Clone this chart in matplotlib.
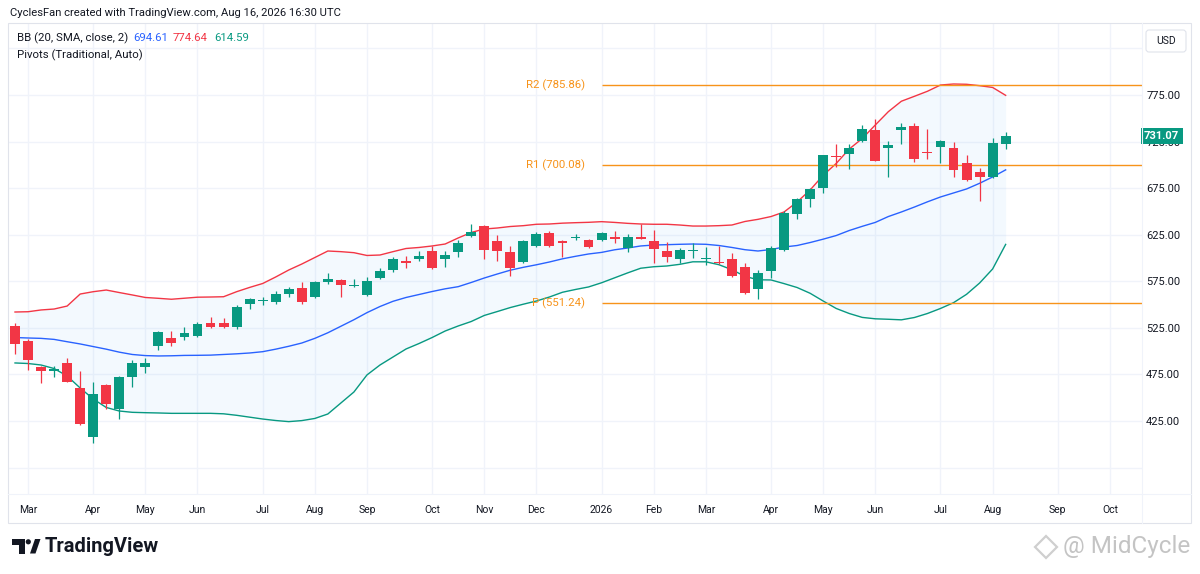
import numpy as np
import pandas as pd
import matplotlib
matplotlib.use('Agg')
import matplotlib.pyplot as plt
import matplotlib.transforms as mtransforms
from matplotlib.patches import FancyBboxPatch, Rectangle, Polygon, Circle

plt.rcParams['font.family'] = ['Roboto', 'DejaVu Sans']

# weekly candles, first bar is the week of 2025-02-24
first_week = '2025-02-24'

opens = [527.3, 511.2, 482.6, 478.3, 486.9, 460.7, 407.5, 463.6, 437.5, 472.5,
         483.3, 505.5, 514.4, 515.5, 516.6, 529.9, 529.9, 525.6, 550.6, 553.5,
         552.4, 561.3, 567.5, 557.8, 573.9, 576.4, 569.6, 560.3, 578.2, 587.1,
         597.1, 598.6, 607.8, 598.9, 606.1, 623.9, 634.7, 618.6, 606.1, 595.4,
         613.2, 626.5, 618.2, 621.1, 619.3, 619.3, 622.9, 610.4, 622.2, 618.6,
         607.5, 598.6, 607.5, 599.3, 595.0, 598.9, 590.7, 566.4, 586.0, 608.6,
         647.2, 663.3, 674.8, 709.8, 711.7, 725.9, 737.4, 717.8, 737.4, 742.0,
         714.1, 719.6, 717.8, 702.3, 692.0, 686.6, 722.1]
highs = [530.0, 512.5, 483.5, 484.0, 492.9, 478.7, 467.2, 464.5, 473.0, 490.5,
         492.3, 521.5, 521.9, 525.6, 531.6, 536.3, 535.2, 549.5, 557.0, 557.8,
         564.6, 569.2, 574.5, 575.5, 583.6, 577.0, 577.1, 579.9, 588.9, 600.7,
         602.1, 607.5, 612.9, 607.5, 619.3, 636.2, 635.5, 624.7, 612.9, 619.5,
         628.2, 629.0, 619.0, 625.8, 620.0, 627.6, 629.3, 625.4, 636.2, 630.0,
         617.5, 610.4, 616.4, 611.5, 612.9, 605.0, 594.3, 587.1, 612.9, 650.0,
         664.0, 675.0, 711.0, 722.4, 722.1, 742.8, 748.9, 725.6, 745.3, 745.3,
         738.2, 727.0, 724.9, 710.6, 696.3, 729.2, 735.0]
lows = [497.0, 479.7, 466.1, 472.5, 466.5, 420.8, 401.7, 437.5, 427.1, 461.2,
        476.2, 501.2, 505.8, 511.9, 515.0, 525.0, 524.5, 523.4, 545.0, 549.5,
        551.0, 558.4, 551.0, 557.0, 572.0, 558.4, 569.0, 559.5, 577.1, 585.3,
        588.9, 597.1, 588.0, 590.7, 600.7, 623.0, 598.6, 596.8, 581.0, 595.0,
        612.0, 612.0, 601.4, 619.3, 610.4, 618.5, 615.8, 606.8, 620.0, 595.0,
        596.0, 594.3, 599.7, 592.5, 594.0, 579.3, 561.5, 555.6, 578.2, 608.0,
        641.6, 654.4, 669.5, 697.4, 695.2, 725.0, 704.0, 686.6, 722.1, 703.4,
        706.0, 701.7, 687.3, 683.0, 661.5, 686.0, 716.7]
closes = [507.7, 490.5, 478.7, 480.5, 467.2, 421.4, 453.6, 443.2, 471.9, 487.6,
          486.9, 520.9, 508.4, 519.1, 529.1, 525.6, 525.6, 547.0, 556.0, 555.0,
          561.3, 566.4, 552.4, 574.5, 577.1, 571.0, 570.7, 575.3, 586.4, 598.6,
          594.3, 602.1, 588.9, 603.2, 616.4, 628.2, 608.6, 607.8, 588.9, 618.6,
          625.4, 612.9, 616.4, 622.9, 612.1, 626.5, 620.1, 622.2, 620.7, 609.3,
          601.4, 608.6, 608.0, 599.7, 594.3, 581.0, 562.1, 584.2, 610.4, 648.6,
          663.3, 673.7, 710.6, 708.1, 717.8, 738.2, 704.5, 721.3, 741.0, 706.3,
          713.1, 726.0, 694.5, 683.7, 687.3, 723.1, 731.07]

# Bollinger bands (20, SMA, close, 2) as drawn
bb_upper = [542.0, 542.3, 544.2, 545.2, 548.4, 561.3, 563.8, 565.6, 562.9, 560.3,
            557.6, 556.7, 555.7, 556.8, 557.9, 558.1, 558.4, 563.8, 568.4, 572.6,
            579.6, 587.1, 593.5, 600.5, 607.5, 606.8, 605.7, 602.7, 603.2, 606.8,
            610.2, 611.3, 612.9, 615.0, 621.5, 627.4, 631.1, 632.2, 633.8, 634.7,
            636.2, 636.5, 637.4, 637.9, 638.3, 639.0, 638.2, 637.2, 636.5, 636.2,
            636.2, 635.4, 634.3, 634.3, 634.7, 635.4, 639.2, 641.5, 644.5, 649.4,
            660.1, 673.0, 688.8, 701.5, 717.0, 728.3, 742.8, 757.1, 768.3, 773.6,
            779.0, 785.7, 786.8, 786.5, 785.0, 783.1, 774.64]
bb_basis = [514.6, 514.1, 513.7, 512.6, 510.1, 507.7, 504.9, 502.1, 498.9, 496.4,
            495.2, 494.8, 495.0, 495.4, 495.5, 495.7, 496.4, 497.1, 498.0, 499.4,
            502.1, 505.2, 508.7, 513.7, 519.7, 526.7, 533.7, 541.3, 547.9, 553.5,
            557.6, 560.8, 564.0, 566.9, 569.2, 573.7, 578.5, 582.8, 586.9, 590.0,
            592.7, 595.7, 599.1, 601.8, 604.3, 606.0, 608.8, 610.7, 612.9, 613.9,
            614.3, 614.7, 615.0, 614.7, 613.4, 611.3, 608.9, 607.5, 609.1, 611.8,
            613.4, 616.6, 620.2, 624.1, 629.5, 634.0, 638.2, 644.5, 649.4, 654.7,
            660.3, 665.5, 669.8, 674.1, 680.2, 687.0, 694.61]
bb_lower = [487.3, 486.7, 485.1, 481.3, 473.3, 460.4, 448.6, 439.5, 435.7, 434.3,
            433.9, 433.6, 433.2, 433.2, 433.2, 433.2, 432.7, 431.1, 429.1, 427.1,
            425.5, 424.3, 425.4, 427.7, 432.5, 444.3, 456.1, 474.4, 485.1, 493.7,
            502.3, 508.2, 514.6, 521.6, 527.0, 531.8, 538.3, 542.5, 546.8, 550.4,
            553.8, 558.1, 563.2, 566.2, 568.9, 573.4, 578.7, 584.0, 589.0, 590.6,
            591.4, 593.2, 595.9, 595.9, 592.8, 587.4, 580.3, 576.6, 576.4, 572.5,
            568.3, 562.1, 553.8, 545.8, 540.4, 536.2, 534.7, 534.2, 533.6, 536.1,
            540.4, 545.8, 552.0, 561.0, 573.1, 588.2, 614.59]

pivot_names = ['R2', 'R1', 'P']
pivot_values = [785.86, 700.08, 551.24]
pivot_start = '2026-01-05'

price_ticks = [375, 425, 475, 525, 575, 625, 675, 725, 775, 825]

W, H = 1200, 574
UP, DOWN = '#089981', '#F23645'
BLUE = '#2962FF'
ORANGE = '#F7931A'
TXT = '#131722'


def fx(x):
    return x / W


def fy(y):
    return 1 - y / H


fig = plt.figure(figsize=(W / 100, H / 100), dpi=100)
pix = mtransforms.Affine2D().scale(1 / W, -1 / H).translate(0, 1) + fig.transFigure

ax = fig.add_axes([fx(8), fy(494), (1142 - 8) / W, (494 - 23) / H])

o = np.array(opens)
h = np.array(highs)
l = np.array(lows)
c = np.array(closes)
n = len(c)
idx = np.arange(n)
cols = np.where(c >= o, UP, DOWN)

# bands
ax.fill_between(idx, bb_lower, bb_upper, color='#2196F3', alpha=0.05, lw=0, zorder=1)
ax.plot(idx, bb_upper, color=DOWN, lw=1.0, zorder=2)
ax.plot(idx, bb_basis, color=BLUE, lw=1.0, zorder=2)
ax.plot(idx, bb_lower, color=UP, lw=1.0, zorder=2)

# candles
ax.vlines(idx, l, h, colors=cols, lw=0.9, zorder=3)
body_lo = np.minimum(o, c)
body_h = np.maximum(np.abs(c - o), 1.0)
ax.bar(idx, body_h, bottom=body_lo, width=0.76, color=cols, lw=0, zorder=4)

# dates -> month labels
dates = pd.date_range(first_week, periods=n + 12, freq='7D')
x_right = 86.46
tick_pos, tick_lab = [], []
for i in range(1, len(dates)):
    if dates[i].month != dates[i - 1].month and i < x_right:
        tick_pos.append(i)
        tick_lab.append(str(dates[i].year) if dates[i].month == 1 else dates[i].strftime('%b'))

# pivots
p0 = dates.get_loc(pd.Timestamp(pivot_start))
for name, v in zip(pivot_names, pivot_values):
    ax.hlines(v, p0, x_right, colors=ORANGE, lw=1.0, zorder=2)
    ax.text(p0 - 1.25, v, f'{name} ({v:.2f})', ha='right', va='center',
            fontsize=8.2, color=ORANGE, zorder=5)

ax.set_xlim(-0.537, x_right)
ax.set_ylim(346.6, 852.3)
ax.set_xticks(tick_pos)
ax.set_xticklabels(tick_lab, fontsize=7.5, color=TXT)
ax.set_yticks(price_ticks)
ax.set_yticklabels([f'{v:.2f}' if 425 <= v <= 775 else '' for v in price_ticks],
                   fontsize=8, color=TXT)
ax.yaxis.tick_right()
ax.tick_params(axis='both', length=0)
ax.tick_params(axis='x', pad=8)
ax.tick_params(axis='y', pad=3)
ax.grid(True, color='#F0F3FA', lw=1.0)
ax.set_axisbelow(True)
for s in ax.spines.values():
    s.set_visible(False)

# last price tag, covering the tick label underneath as in the original
tr = mtransforms.blended_transform_factory(ax.transAxes, ax.transData)
ax.text(1.0 + 2 / 1134, closes[-1], f'{closes[-1]:.2f}', transform=tr, ha='left',
        va='center', fontsize=8, color='white', fontweight='bold', clip_on=False, zorder=6,
        bbox=dict(boxstyle='square,pad=0.3', fc=UP, ec='none'))

# frame and separators
fig.add_artist(Rectangle((8, 23), 1183, 500, transform=pix, fill=False, ec='#E0E3EB', lw=0.8))
fig.add_artist(plt.Line2D([8, 1191], [494, 494], transform=pix, color='#F0F3FA', lw=0.8))
fig.add_artist(plt.Line2D([1142, 1142], [23, 523], transform=pix, color='#F0F3FA', lw=0.8))

# USD box
fig.add_artist(FancyBboxPatch((1146, 30), 40, 22, boxstyle='round,pad=0,rounding_size=3',
                              transform=pix, fc='white', ec='#E0E3EB', lw=0.8))
fig.text(fx(1166), fy(41), 'USD', ha='center', va='center', fontsize=7.5, color=TXT)

# header and legends
fig.text(fx(10), fy(13), 'CyclesFan created with TradingView.com, Aug 16, 2026 16:30 UTC',
         fontsize=8.1, color=TXT, va='center')
fig.text(fx(17), fy(38), 'BB (20, SMA, close, 2)', fontsize=8.2, color=TXT, va='center')
fig.text(fx(133), fy(38), f'{bb_basis[-1]:.2f}', fontsize=8.2, color=BLUE, va='center')
fig.text(fx(173), fy(38), f'{bb_upper[-1]:.2f}', fontsize=8.2, color=DOWN, va='center')
fig.text(fx(214), fy(38), f'{bb_lower[-1]:.2f}', fontsize=8.2, color=UP, va='center')
fig.text(fx(17), fy(55), 'Pivots (Traditional, Auto)', fontsize=8.2, color=TXT, va='center')

# TradingView logo
fig.add_artist(Polygon([(12, 539), (24.5, 539), (24.5, 553.5), (18.5, 553.5),
                        (18.5, 544.5), (12, 544.5)], closed=True, transform=pix,
                       fc=TXT, ec='none'))
fig.add_artist(Circle((28.3, 541.8), 2.6, transform=pix, fc=TXT, ec='none'))
fig.add_artist(Polygon([(30, 553.5), (35.5, 553.5), (40.5, 539), (35, 539)], closed=True,
                       transform=pix, fc=TXT, ec='none'))
fig.text(fx(45), fy(546.5), 'TradingView', fontsize=14.5, fontweight='bold', color=TXT,
         va='center')

# watermark
fig.add_artist(plt.Line2D([1046], [547], transform=pix, marker='D', ms=11, mfc='none',
                          mec='#CFCFCF', mew=1.6))
fig.text(fx(1063), fy(547), '@ MidCycle', fontsize=17.5, color='#C4C4C4', va='center')

fig.savefig('out.png', dpi=100)
